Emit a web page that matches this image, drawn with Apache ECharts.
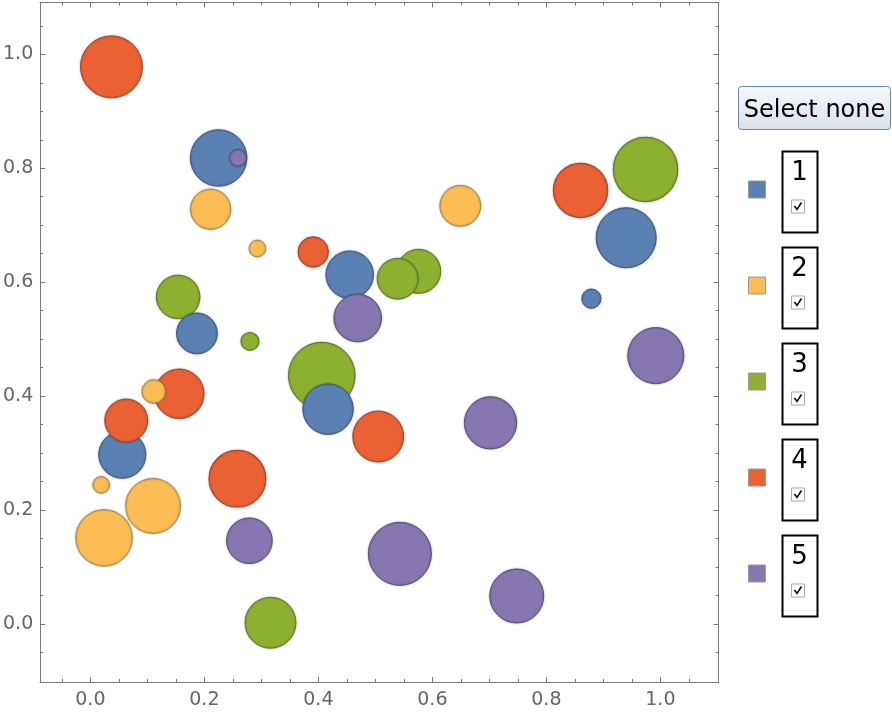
<!DOCTYPE html>
<html>
<head>
<meta charset="utf-8">
<script src="https://cdn.jsdelivr.net/npm/echarts@6/dist/echarts.min.js"></script>
<style>
  html, body { margin: 0; padding: 0; background: #fff; }
  #chart { width: 892px; height: 714px; }
</style>
</head>
<body>
<div id="chart"></div>
<script>
// bubbles: [x, y, size]
const series1 = [
  [0.225, 0.818, 0.69], [0.940, 0.678, 0.78], [0.879, 0.571, 0.08], [0.455, 0.613, 0.49],
  [0.187, 0.510, 0.36], [0.417, 0.377, 0.55], [0.056, 0.297, 0.48],
]
const series2 = [
  [0.211, 0.728, 0.35], [0.293, 0.659, 0.06], [0.649, 0.734, 0.36], [0.111, 0.408, 0.12],
  [0.019, 0.244, 0.06], [0.110, 0.207, 0.65], [0.024, 0.151, 0.69],
]
const series3 = [
  [0.974, 0.798, 0.90], [0.154, 0.574, 0.41], [0.280, 0.496, 0.07], [0.406, 0.436, 0.96],
  [0.576, 0.619, 0.42], [0.539, 0.606, 0.36], [0.316, 0.002, 0.56],
]
const series4 = [
  [0.037, 0.978, 0.83], [0.860, 0.761, 0.64], [0.391, 0.653, 0.20], [0.156, 0.404, 0.53],
  [0.063, 0.357, 0.40], [0.505, 0.329, 0.56], [0.258, 0.255, 0.70],
]
const series5 = [
  [0.259, 0.818, 0.06], [0.992, 0.471, 0.68], [0.469, 0.537, 0.49], [0.702, 0.353, 0.59],
  [0.279, 0.146, 0.45], [0.543, 0.123, 0.86], [0.748, 0.049, 0.63],
]
const seriesNames = ['1', '2', '3', '4', '5']
const allSeries = [series1, series2, series3, series4, series5]

const majorTicks = [0, 0.2, 0.4, 0.6, 0.8, 1.0]
const minorTicks = [-0.05, 0.05, 0.1, 0.15, 0.25, 0.3, 0.35, 0.45, 0.5, 0.55,
  0.65, 0.7, 0.75, 0.85, 0.9, 0.95, 1.05]

const colors = ['#5B80B4', '#FBBD53', '#8DB031', '#EA6133', '#8677B1']
const edgeColors = ['#3F5A82', '#A88B50', '#5F7A24', '#A5452A', '#5B5081']

const axisColor = '#777'
const labelFont = { fontFamily: 'DejaVu Sans', fontSize: 19, color: '#666' }

// larger bubbles go underneath smaller ones
const bubbles = []
allSeries.forEach((list, k) => {
  list.forEach(p => bubbles.push({ value: p, k }))
})
bubbles.sort((a, b) => b.value[2] - a.value[2])

function tickAxis(dim, position, values, len, withLabel) {
  return {
    type: 'value',
    position,
    min: dim === 'x' ? -0.088 : -0.102,
    max: dim === 'x' ? 1.102 : 1.091,
    axisLine: { show: true, onZero: false, lineStyle: { color: axisColor, width: 1 } },
    axisTick: {
      show: true, inside: true, length: len, customValues: values,
      lineStyle: { color: axisColor, width: 1 },
    },
    axisLabel: withLabel ? {
      show: true, customValues: values, margin: dim === 'x' ? 9 : 7,
      formatter: v => v.toFixed(1), ...labelFont,
    } : { show: false },
    splitLine: { show: false },
  }
}

const chart = echarts.init(document.getElementById('chart'))

const graphics = []
// "Select none" button
graphics.push({
  type: 'rect',
  shape: { x: 738.5, y: 86.5, width: 152, height: 43, r: 3 },
  style: {
    fill: new echarts.graphic.LinearGradient(0, 0, 0, 1, [
      { offset: 0, color: '#F7F9FB' }, { offset: 1, color: '#DAE1E8' },
    ]),
    stroke: '#5C8CB6', lineWidth: 1,
  },
})
graphics.push({
  type: 'text',
  style: {
    x: 814.5, y: 110.5, text: 'Select none', fill: '#000',
    font: '24px "DejaVu Sans"', align: 'center', verticalAlign: 'middle',
  },
})

seriesNames.forEach((name, i) => {
  const cy = 189.5 + 96 * i
  graphics.push({
    type: 'rect',
    shape: { x: 748.5, y: cy - 8.5, width: 17, height: 17 },
    style: { fill: colors[i], stroke: '#999', lineWidth: 1 },
  })
  graphics.push({
    type: 'rect',
    shape: { x: 782.5, y: cy - 38, width: 35, height: 81 },
    style: { fill: '#fff', stroke: '#000', lineWidth: 2 },
  })
  graphics.push({
    type: 'text',
    style: {
      x: 799.5, y: cy - 16, text: name, fill: '#000',
      font: '26px "DejaVu Sans"', align: 'center', verticalAlign: 'middle',
    },
  })
  graphics.push({
    type: 'rect',
    shape: { x: 791.5, y: cy + 10.5, width: 13, height: 13 },
    style: { fill: '#fff', stroke: '#aaa', lineWidth: 1 },
  })
  graphics.push({
    type: 'polyline',
    shape: { points: [[794.5, cy + 16.5], [797, cy + 20], [801.5, cy + 13]] },
    style: { fill: null, stroke: '#000', lineWidth: 1.5 },
  })
})

const option = {
  animation: false,
  backgroundColor: '#fff',
  grid: { left: 37.5, top: 2.5, right: 173.5, bottom: 32 },
  xAxis: [
    tickAxis('x', 'bottom', majorTicks, 5, true),
    tickAxis('x', 'bottom', minorTicks, 3, false),
    tickAxis('x', 'top', majorTicks, 5, false),
    tickAxis('x', 'top', minorTicks, 3, false),
  ],
  yAxis: [
    tickAxis('y', 'left', majorTicks, 5, true),
    tickAxis('y', 'left', minorTicks, 3, false),
    tickAxis('y', 'right', majorTicks, 5, false),
    tickAxis('y', 'right', minorTicks, 3, false),
  ],
  series: [{
    type: 'scatter',
    name: 'bubbles',
    xAxisIndex: 0,
    yAxisIndex: 0,
    symbol: 'circle',
    symbolSize: d => 68 * Math.sqrt(d[2]),
    data: bubbles.map(b => ({
      value: b.value,
      itemStyle: {
        color: colors[b.k],
        opacity: 1,
        borderColor: edgeColors[b.k],
        borderWidth: 1,
        shadowBlur: 2,
        shadowColor: 'rgba(0,0,0,0.3)',
      },
    })),
  }],
  graphic: graphics,
}

chart.setOption(option)
</script>
</body>
</html>
